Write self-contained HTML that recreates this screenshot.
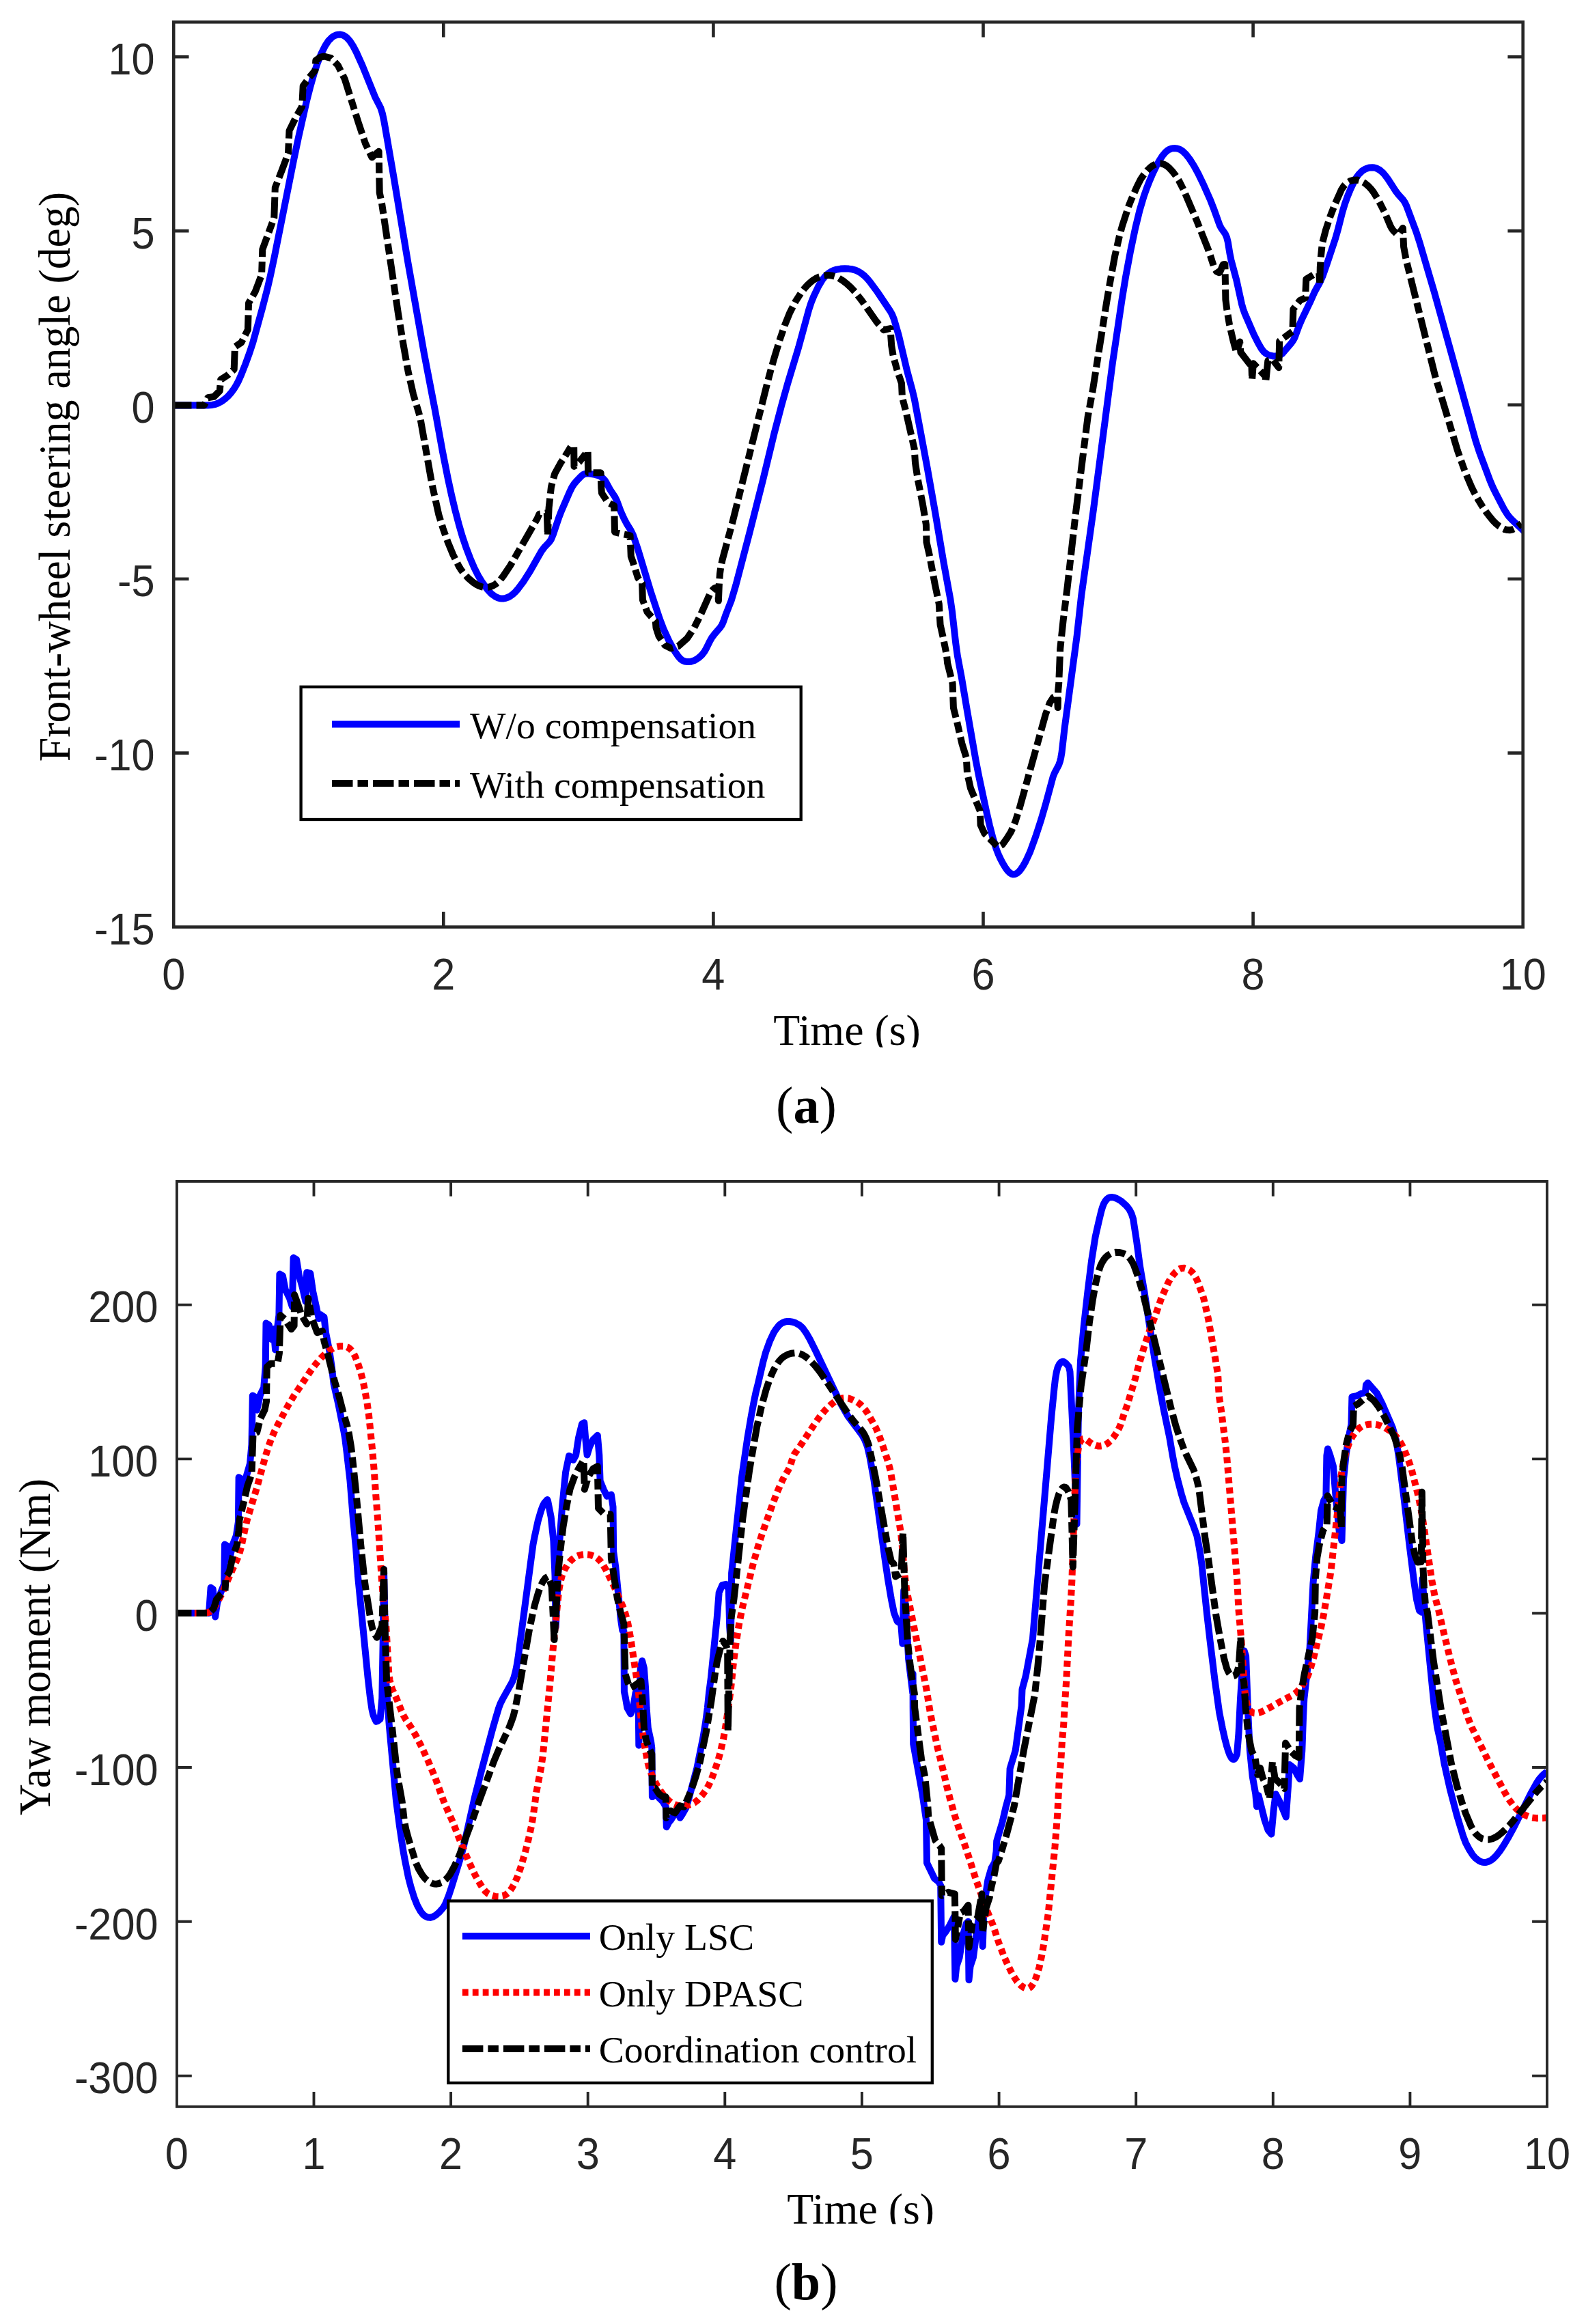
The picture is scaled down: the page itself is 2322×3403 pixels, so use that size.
<!DOCTYPE html>
<html lang="en"><head><meta charset="utf-8"><title>Figure</title>
<style>html,body{margin:0;padding:0;background:#fff}svg{display:block}.tk{font-family:"Liberation Sans",Arial,sans-serif;font-size:62.5px;fill:#262626}.lb{font-family:"Liberation Serif","Times New Roman",serif;font-size:63.8px;fill:#000}.lg{font-family:"Liberation Serif","Times New Roman",serif;font-size:55.7px;fill:#000}.cap{font-family:"Liberation Serif","Times New Roman",serif;font-size:76px;fill:#000}.cv{fill:none;stroke-width:10;stroke-linejoin:round}</style></head><body>
<svg xmlns="http://www.w3.org/2000/svg" width="2322" height="3403" viewBox="0 0 2322 3403">
<rect width="2322" height="3403" fill="#fff"/>
<defs>
<clipPath id="c1"><rect x="254.2" y="32.3" width="1975.5" height="1325.1"/></clipPath>
<clipPath id="c2"><rect x="258.9" y="1729.9" width="2006.1" height="1354.9"/></clipPath>
<clipPath id="t1"><rect x="1000" y="1440" width="500" height="93.5"/></clipPath>
<clipPath id="t2"><rect x="1000" y="3160" width="500" height="96.8"/></clipPath>
</defs>
<path stroke="#262626" stroke-width="4.6" fill="none" d="M649.3 1357.4v-22.3M649.3 32.3v22.3M1044.4 1357.4v-22.3M1044.4 32.3v22.3M1439.5 1357.4v-22.3M1439.5 32.3v22.3M1834.6 1357.4v-22.3M1834.6 32.3v22.3M254.2 83.3h22.3M2229.7 83.3h-22.3M254.2 338.1h22.3M2229.7 338.1h-22.3M254.2 592.9h22.3M2229.7 592.9h-22.3M254.2 847.7h22.3M2229.7 847.7h-22.3M254.2 1102.6h22.3M2229.7 1102.6h-22.3"/>
<g clip-path="url(#c1)">
<path class="cv" stroke="#00f" d="M240.1 593.4 L304.0 593.4 L310.9 592.9 L315.7 591.8 L320.3 590.0 L325.5 587.1 L329.5 584.1 L333.9 580.1 L337.9 575.7 L342.1 570.1 L345.8 564.1 L349.1 558.0 L353.5 547.9 L359.4 533.0 L365.2 517.0 L369.9 502.8 L384.0 451.7 L391.3 423.6 L395.8 404.2 L401.4 377.7 L429.8 235.6 L437.0 201.3 L448.8 148.6 L454.5 126.3 L460.2 106.1 L465.3 91.0 L470.6 78.0 L476.0 67.3 L480.9 59.8 L485.7 54.9 L489.0 52.7 L491.6 51.5 L495.3 50.7 L498.2 50.6 L500.9 51.1 L503.6 52.2 L506.0 53.7 L508.3 55.6 L512.2 60.0 L516.6 66.7 L521.7 76.4 L530.7 96.4 L549.1 141.9 L557.2 157.8 L559.9 166.3 L562.2 177.0 L566.0 198.7 L576.9 261.8 L597.1 383.1 L621.0 518.0 L636.9 600.5 L647.8 660.5 L655.8 700.7 L661.1 725.1 L666.2 746.5 L671.8 767.8 L676.8 785.1 L682.2 801.2 L688.2 817.1 L694.5 831.8 L699.9 842.5 L706.1 852.8 L713.7 863.3 L719.8 869.8 L725.4 873.8 L729.0 875.4 L731.8 876.2 L734.7 876.5 L737.6 876.4 L740.5 875.8 L744.1 874.5 L747.6 872.6 L750.7 870.3 L754.4 866.9 L757.7 863.2 L766.1 852.0 L776.3 836.0 L792.6 807.3 L796.7 801.7 L804.1 793.8 L806.9 789.8 L809.6 783.4 L817.9 758.8 L821.4 749.4 L833.7 721.0 L837.2 713.8 L840.4 708.8 L844.2 704.2 L850.4 697.8 L853.3 695.3 L855.6 694.1 L859.2 693.4 L863.0 693.6 L870.8 694.9 L876.5 696.5 L879.2 697.7 L881.6 699.3 L885.0 702.7 L887.2 705.9 L892.9 716.4 L900.1 727.2 L903.2 733.5 L909.1 749.4 L913.6 759.4 L917.3 766.5 L923.6 776.7 L926.7 782.9 L933.5 802.8 L952.6 866.0 L965.7 905.8 L971.4 920.8 L979.3 938.0 L984.0 946.9 L988.5 954.7 L993.0 961.2 L996.3 964.9 L999.3 967.1 L1002.8 968.5 L1006.6 969.1 L1011.5 968.7 L1017.0 966.9 L1022.9 963.3 L1027.3 959.3 L1031.6 953.8 L1034.0 949.5 L1039.3 938.8 L1042.3 933.6 L1046.5 928.0 L1054.3 919.0 L1057.0 914.9 L1059.0 910.4 L1062.6 900.0 L1070.6 879.5 L1077.4 856.5 L1096.9 782.1 L1117.1 702.6 L1133.5 634.5 L1144.1 593.9 L1153.3 561.1 L1169.2 508.5 L1184.2 453.5 L1187.6 443.1 L1191.3 433.8 L1198.2 419.4 L1203.8 409.9 L1206.9 406.0 L1210.3 402.4 L1213.4 399.9 L1216.7 397.8 L1220.3 396.1 L1225.0 394.6 L1230.8 393.6 L1236.8 393.3 L1242.8 393.6 L1247.7 394.3 L1252.5 395.6 L1257.0 397.7 L1261.2 400.3 L1265.8 404.0 L1270.0 408.3 L1274.4 413.7 L1284.5 427.4 L1303.4 455.6 L1306.3 460.8 L1308.9 467.3 L1315.6 490.3 L1328.0 542.9 L1335.8 571.9 L1338.8 584.5 L1357.6 684.8 L1369.4 751.7 L1381.2 821.7 L1391.3 876.8 L1393.9 894.6 L1399.3 942.3 L1401.8 960.1 L1407.9 992.6 L1415.5 1037.9 L1428.7 1113.8 L1433.5 1138.3 L1444.4 1189.2 L1448.9 1208.7 L1453.6 1227.0 L1458.7 1243.3 L1461.6 1250.7 L1464.5 1257.1 L1468.2 1264.2 L1472.3 1271.0 L1475.3 1275.0 L1478.0 1277.7 L1481.1 1279.7 L1483.5 1280.3 L1486.0 1280.1 L1489.2 1278.5 L1492.1 1276.0 L1494.6 1272.9 L1497.9 1268.0 L1501.8 1261.0 L1508.1 1247.4 L1516.3 1224.8 L1524.3 1200.1 L1531.0 1177.1 L1541.7 1137.5 L1543.9 1132.0 L1550.3 1119.7 L1551.9 1115.0 L1553.1 1110.1 L1554.6 1101.3 L1558.7 1065.5 L1576.5 932.7 L1583.2 872.1 L1600.9 746.3 L1628.9 531.1 L1642.7 438.1 L1648.0 405.6 L1655.2 367.2 L1662.2 334.0 L1668.6 307.7 L1674.6 287.6 L1678.9 275.4 L1683.3 264.2 L1688.0 253.2 L1692.4 244.2 L1697.2 235.4 L1701.5 228.7 L1705.9 223.3 L1709.6 220.1 L1712.1 218.7 L1714.8 217.7 L1717.6 217.2 L1720.5 217.1 L1723.4 217.5 L1726.1 218.3 L1728.8 219.6 L1731.2 221.2 L1736.2 225.9 L1741.8 233.0 L1748.2 243.1 L1754.4 254.5 L1762.2 270.7 L1772.3 293.6 L1776.7 304.8 L1785.8 330.1 L1788.1 334.4 L1793.8 342.4 L1796.1 347.8 L1797.8 354.6 L1800.5 371.3 L1802.5 381.1 L1810.3 410.1 L1818.0 445.3 L1820.2 452.9 L1822.6 459.5 L1835.7 489.8 L1842.0 502.3 L1847.0 510.9 L1850.0 514.8 L1853.7 517.9 L1858.0 520.1 L1863.7 521.4 L1867.7 521.5 L1871.5 520.9 L1874.9 519.5 L1877.2 517.9 L1890.7 502.3 L1893.5 498.2 L1895.4 494.7 L1901.6 477.8 L1906.3 466.8 L1917.6 443.4 L1924.9 427.0 L1932.6 413.0 L1936.3 404.8 L1942.6 386.9 L1955.2 349.0 L1958.5 337.4 L1965.4 310.3 L1969.2 297.8 L1972.9 287.5 L1977.5 276.4 L1981.3 268.3 L1985.1 261.2 L1989.1 255.5 L1994.0 250.6 L1998.9 247.5 L2004.5 245.6 L2009.3 245.2 L2012.1 245.5 L2014.9 246.3 L2020.1 249.0 L2025.3 253.6 L2028.5 257.4 L2032.1 262.2 L2044.0 280.7 L2047.7 285.3 L2054.3 292.7 L2057.0 296.8 L2059.5 302.2 L2073.5 339.7 L2079.0 356.8 L2099.6 426.8 L2160.5 645.5 L2165.8 661.7 L2181.5 703.8 L2185.4 713.0 L2189.8 722.0 L2201.8 745.1 L2206.5 752.7 L2209.5 756.7 L2213.6 761.1 L2236.1 782.3"/>
<path class="cv" stroke="#000" stroke-dasharray="30.5 7 15.5 7" d="M250.0 593.4 L299.0 593.4 L304.4 582.3 L313.2 580.9 L321.7 572.4 L323.1 556.1 L323.4 555.7 L333.1 549.6 L342.7 540.8 L343.9 507.9 L353.4 501.5 L362.9 482.8 L364.0 443.8 L373.7 427.0 L383.1 402.2 L384.3 365.2 L401.3 318.8 L402.8 274.8 L412.6 249.6 L422.0 224.3 L423.5 191.4 L432.8 172.5 L442.2 156.0 L443.7 126.0 L453.1 113.1 L461.4 103.1 L462.3 88.6 L462.7 88.3 L469.2 83.6 L474.5 82.5 L484.7 85.1 L494.7 95.6 L504.7 115.7 L524.8 179.7 L534.9 210.0 L544.5 230.4 L554.6 221.7 L555.7 282.1 L559.0 297.7 L583.2 460.4 L590.5 504.3 L597.5 543.7 L605.1 577.4 L613.4 605.1 L615.6 613.9 L632.4 708.9 L642.5 754.3 L648.6 773.8 L655.4 793.1 L663.4 812.5 L671.7 829.0 L674.6 833.7 L677.8 838.1 L685.5 846.6 L693.5 853.3 L697.6 856.0 L701.6 858.0 L705.3 859.3 L708.6 859.9 L711.9 860.1 L715.2 859.8 L718.5 858.9 L722.0 857.5 L725.4 855.5 L728.4 853.1 L732.6 848.9 L736.9 843.4 L746.9 828.5 L786.5 759.5 L789.5 752.7 L800.8 751.1 L801.9 784.2 L803.6 743.7 L807.0 712.9 L812.2 693.6 L820.6 678.3 L826.7 669.1 L835.5 654.6 L835.8 654.2 L840.0 652.8 L840.2 653.0 L840.5 682.9 L847.8 676.8 L860.6 660.3 L861.1 691.8 L861.4 692.1 L879.4 692.3 L879.6 692.7 L880.3 714.6 L881.0 722.1 L890.1 735.9 L899.0 740.4 L899.2 740.7 L900.0 778.7 L900.2 779.1 L908.9 781.3 L922.6 784.3 L923.8 814.7 L926.5 822.2 L933.9 846.1 L940.1 854.0 L940.9 878.4 L947.6 896.2 L959.8 910.1 L960.5 919.1 L964.5 931.4 L973.4 944.7 L982.3 949.2 L982.8 949.2 L993.3 946.1 L1006.0 934.8 L1016.2 919.4 L1026.0 899.7 L1038.9 870.5 L1041.3 866.3 L1043.9 863.1 L1046.1 861.3 L1047.8 860.5 L1049.1 860.6 L1050.1 861.7 L1051.0 865.7 L1051.9 879.6 L1052.9 854.5 L1054.0 840.0 L1055.3 830.1 L1057.8 818.9 L1072.6 763.9 L1122.2 565.5 L1127.8 544.2 L1133.8 523.1 L1141.6 497.7 L1149.0 476.0 L1155.9 458.8 L1164.4 441.9 L1172.8 428.8 L1177.3 422.9 L1182.0 417.7 L1186.3 413.6 L1190.5 410.2 L1195.2 407.4 L1199.7 405.4 L1204.9 403.9 L1209.7 403.1 L1214.6 403.1 L1218.9 403.8 L1223.6 405.2 L1228.1 407.3 L1234.0 411.0 L1239.9 415.6 L1246.1 421.3 L1252.2 427.9 L1261.7 440.1 L1282.6 470.0 L1286.7 475.1 L1293.9 483.2 L1303.5 481.0 L1305.2 505.9 L1307.7 521.2 L1314.0 543.8 L1320.0 561.3 L1320.9 581.8 L1326.2 602.1 L1338.7 657.2 L1340.0 677.7 L1343.8 702.4 L1350.9 738.2 L1355.9 768.3 L1356.5 793.8 L1361.0 813.8 L1368.5 854.1 L1374.8 884.4 L1376.6 914.9 L1381.1 934.9 L1386.1 959.9 L1387.1 970.8 L1394.6 1000.9 L1395.9 1036.4 L1400.9 1056.2 L1408.4 1088.9 L1414.8 1109.4 L1416.0 1131.9 L1421.0 1154.3 L1434.9 1187.5 L1435.6 1208.0 L1441.2 1220.2 L1461.3 1240.4 L1467.7 1236.7 L1474.1 1227.7 L1480.2 1217.9 L1486.6 1202.7 L1493.0 1182.2 L1530.7 1046.4 L1537.0 1028.9 L1542.2 1021.0 L1547.7 1018.6 L1547.9 1018.8 L1548.7 1036.1 L1549.2 1011.1 L1550.2 1000.7 L1552.2 950.2 L1556.5 909.4 L1562.7 859.3 L1574.6 754.0 L1592.7 610.1 L1599.6 572.7 L1620.1 442.9 L1624.8 415.3 L1632.3 374.4 L1638.8 346.2 L1643.0 330.8 L1652.6 301.3 L1655.9 293.0 L1664.8 272.8 L1670.0 262.6 L1674.4 256.0 L1679.4 249.8 L1684.0 245.3 L1688.3 242.1 L1692.1 240.2 L1696.2 239.3 L1700.3 239.4 L1704.3 240.7 L1708.1 242.8 L1712.2 246.3 L1716.2 250.6 L1720.8 256.5 L1726.2 264.9 L1732.6 277.4 L1752.2 323.3 L1768.8 365.2 L1772.1 374.6 L1777.1 390.2 L1778.9 394.4 L1781.1 397.5 L1782.7 398.4 L1785.0 399.2 L1786.0 398.1 L1786.8 396.6 L1790.6 387.5 L1793.4 386.9 L1794.4 438.9 L1796.3 453.3 L1800.0 475.4 L1805.1 497.4 L1810.2 516.2 L1815.2 500.6 L1816.4 515.9 L1829.8 533.3 L1832.3 529.6 L1833.1 556.0 L1834.9 532.2 L1852.6 551.0 L1853.1 559.6 L1856.3 528.3 L1862.8 526.0 L1872.2 538.3 L1873.2 499.5 L1892.4 485.3 L1893.4 452.8 L1903.0 440.1 L1911.1 436.2 L1912.3 408.7 L1922.9 402.3 L1931.0 399.8 L1931.3 400.0 L1932.3 417.2 L1932.8 391.7 L1933.8 376.8 L1935.8 356.9 L1940.9 337.0 L1947.6 316.6 L1954.1 299.9 L1963.8 277.9 L1967.5 272.2 L1971.6 268.1 L1976.5 265.2 L1982.1 263.7 L1987.3 263.6 L1992.4 264.9 L1997.9 268.0 L2003.2 272.4 L2007.2 276.7 L2010.9 281.4 L2018.2 293.3 L2027.3 311.1 L2035.8 331.3 L2037.7 334.7 L2039.6 337.4 L2046.1 343.8 L2047.0 343.3 L2048.2 342.0 L2053.9 334.0 L2055.1 361.4 L2058.9 381.6 L2101.1 550.4 L2133.9 659.6 L2142.5 684.1 L2148.6 699.4 L2154.5 713.2 L2158.7 721.7 L2164.0 731.3 L2169.2 739.9 L2175.3 749.0 L2180.4 755.8 L2186.2 762.7 L2190.4 766.9 L2195.0 770.7 L2199.1 773.3 L2203.0 775.1 L2207.2 776.1 L2210.9 776.2 L2214.5 775.3 L2218.3 773.6 L2222.3 770.9 L2227.6 766.7"/>
</g>
<rect x="254.2" y="32.3" width="1975.5" height="1325.1" stroke="#262626" stroke-width="4.6" fill="none"/>
<text class="tk" text-anchor="middle" transform="translate(254.2 1449.0) scale(.98 1.04)">0</text>
<text class="tk" text-anchor="middle" transform="translate(649.3 1449.0) scale(.98 1.04)">2</text>
<text class="tk" text-anchor="middle" transform="translate(1044.4 1449.0) scale(.98 1.04)">4</text>
<text class="tk" text-anchor="middle" transform="translate(1439.5 1449.0) scale(.98 1.04)">6</text>
<text class="tk" text-anchor="middle" transform="translate(1834.6 1449.0) scale(.98 1.04)">8</text>
<text class="tk" text-anchor="middle" transform="translate(2229.7 1449.0) scale(.98 1.04)">10</text>
<text class="tk" text-anchor="end" transform="translate(226.5 109.0) scale(.98 1.04)">10</text>
<text class="tk" text-anchor="end" transform="translate(226.5 363.8) scale(.98 1.04)">5</text>
<text class="tk" text-anchor="end" transform="translate(226.5 618.6) scale(.98 1.04)">0</text>
<text class="tk" text-anchor="end" transform="translate(226.5 873.4) scale(.98 1.04)">-5</text>
<text class="tk" text-anchor="end" transform="translate(226.5 1128.3) scale(.98 1.04)">-10</text>
<text class="tk" text-anchor="end" transform="translate(226.5 1383.1) scale(.98 1.04)">-15</text>
<text class="lb" text-anchor="middle" transform="translate(102.1 698.1) rotate(-90) scale(1 1.025)">Front-wheel steering angle (deg)</text>
<g clip-path="url(#t1)"><text class="lb" text-anchor="middle" x="1240" y="1530.3">Time (s)</text></g>
<text class="cap" text-anchor="middle" x="1180.4" y="1643.8">(<tspan font-weight="bold">a</tspan>)</text>
<rect x="440.6" y="1005.8" width="732.1" height="194.2" fill="#fff" stroke="#000" stroke-width="4.3"/>
<path class="cv" stroke="#00f" d="M486 1060.4H673.1"/>
<path class="cv" stroke="#000" stroke-dasharray="30.5 7 15.5 7" d="M486 1147H673.1"/>
<text class="lg" x="688" y="1080.9">W/o compensation</text>
<text class="lg" x="688" y="1167.5">With compensation</text>
<path stroke="#262626" stroke-width="3.9" fill="none" d="M459.5 3084.8v-21.9M459.5 1729.9v21.9M660.1 3084.8v-21.9M660.1 1729.9v21.9M860.7 3084.8v-21.9M860.7 1729.9v21.9M1061.3 3084.8v-21.9M1061.3 1729.9v21.9M1261.9 3084.8v-21.9M1261.9 1729.9v21.9M1462.6 3084.8v-21.9M1462.6 1729.9v21.9M1663.2 3084.8v-21.9M1663.2 1729.9v21.9M1863.8 3084.8v-21.9M1863.8 1729.9v21.9M2064.4 3084.8v-21.9M2064.4 1729.9v21.9M258.9 1910.6h21.9M2265.0 1910.6h-21.9M258.9 2136.4h21.9M2265.0 2136.4h-21.9M258.9 2362.2h21.9M2265.0 2362.2h-21.9M258.9 2588.0h21.9M2265.0 2588.0h-21.9M258.9 2813.8h21.9M2265.0 2813.8h-21.9M258.9 3039.6h21.9M2265.0 3039.6h-21.9"/>
<g clip-path="url(#c2)">
<path class="cv" stroke="#00f" d="M250.0 2361.9 L306.0 2361.9 L308.6 2324.7 L311.8 2327.1 L315.1 2367.4 L318.1 2347.2 L323.2 2332.0 L328.2 2319.5 L329.0 2261.6 L333.2 2264.1 L335.8 2284.0 L340.8 2261.6 L345.9 2248.5 L348.9 2228.8 L349.6 2163.3 L353.3 2165.6 L353.5 2166.1 L355.9 2183.3 L360.9 2160.9 L366.0 2143.1 L368.5 2115.2 L369.8 2043.7 L369.9 2043.5 L374.1 2046.1 L376.1 2064.7 L381.1 2042.2 L386.2 2031.9 L388.7 2001.5 L389.5 1937.5 L393.7 1940.0 L397.6 1961.2 L400.6 1946.1 L403.1 1976.5 L406.4 1941.3 L408.4 1925.9 L409.4 1865.9 L409.5 1865.6 L413.9 1868.1 L417.7 1888.2 L423.9 1900.7 L427.8 1913.3 L429.6 1841.9 L429.8 1841.7 L434.1 1844.2 L437.9 1867.9 L442.9 1885.7 L447.4 1905.7 L449.2 1863.2 L454.3 1864.5 L458.1 1890.7 L466.8 1930.8 L466.9 1931.1 L469.3 1925.0 L474.5 1928.6 L477.0 1951.5 L482.1 1977.0 L485.4 1999.2 L488.6 2026.5 L495.4 2056.2 L503.4 2095.9 L505.3 2107.3 L507.8 2127.6 L512.5 2168.3 L517.3 2228.1 L521.1 2267.0 L524.0 2307.9 L538.5 2455.6 L541.7 2483.5 L544.4 2502.3 L546.1 2510.0 L547.5 2514.0 L550.7 2520.8 L552.7 2520.2 L556.6 2517.3 L559.3 2487.0 L561.0 2386.0 L562.0 2298.0 L565.1 2461.6 L569.8 2526.4 L580.0 2636.5 L585.1 2675.1 L590.2 2709.2 L592.5 2722.0 L597.9 2749.0 L601.4 2762.5 L606.6 2779.2 L610.9 2789.9 L615.4 2798.2 L618.9 2802.8 L622.5 2805.8 L626.1 2807.5 L629.9 2807.9 L633.7 2806.9 L638.2 2804.2 L643.4 2799.7 L648.0 2794.5 L650.2 2791.3 L652.3 2787.4 L656.9 2775.8 L661.0 2763.5 L673.6 2722.4 L676.8 2711.3 L680.3 2697.2 L695.4 2629.9 L705.7 2589.7 L720.9 2532.7 L725.6 2516.4 L730.0 2501.5 L732.6 2494.5 L735.9 2487.9 L750.0 2462.6 L752.4 2456.6 L754.5 2448.9 L756.8 2437.7 L758.5 2427.3 L780.4 2261.8 L782.8 2249.5 L787.7 2227.0 L792.2 2211.7 L794.9 2204.4 L797.1 2200.6 L801.3 2195.9 L802.0 2197.5 L806.7 2221.3 L810.4 2256.1 L812.5 2307.0 L813.7 2382.5 L819.3 2256.4 L823.1 2206.0 L828.1 2155.8 L833.1 2131.8 L836.8 2134.1 L839.3 2137.8 L843.2 2130.6 L847.0 2105.4 L851.9 2085.5 L852.1 2085.0 L855.1 2083.2 L855.3 2083.2 L857.1 2105.2 L859.6 2130.4 L863.4 2117.9 L868.3 2108.1 L874.8 2101.7 L877.3 2130.6 L878.6 2168.5 L883.7 2181.0 L888.6 2190.9 L894.9 2188.6 L897.5 2206.4 L898.2 2271.9 L901.3 2294.7 L908.8 2370.3 L911.3 2387.6 L911.5 2384.0 L913.4 2388.6 L913.9 2477.1 L915.9 2486.4 L918.3 2500.7 L923.3 2509.5 L926.9 2500.7 L930.5 2479.0 L934.4 2471.9 L935.3 2555.8 L936.5 2471.8 L937.8 2442.3 L940.1 2431.9 L942.9 2442.5 L945.1 2471.9 L946.6 2500.9 L948.8 2530.3 L953.1 2550.3 L954.3 2559.3 L954.9 2630.7 L955.0 2631.1 L959.0 2625.3 L964.9 2632.7 L970.6 2638.3 L974.8 2645.7 L975.8 2675.2 L978.8 2669.2 L982.3 2664.9 L987.0 2657.3 L992.6 2653.1 L995.7 2661.7 L998.5 2657.5 L1004.2 2647.5 L1008.7 2632.7 L1020.4 2588.8 L1029.3 2544.6 L1032.9 2522.9 L1035.8 2501.1 L1038.0 2479.2 L1040.9 2456.9 L1049.7 2369.4 L1052.7 2332.0 L1057.5 2321.0 L1057.9 2320.8 L1062.9 2319.8 L1066.8 2327.0 L1068.2 2382.4 L1069.7 2402.6 L1070.9 2340.1 L1071.1 2303.6 L1086.2 2161.8 L1094.2 2106.7 L1099.8 2073.5 L1104.1 2050.7 L1106.7 2038.4 L1109.8 2026.2 L1113.8 2009.0 L1117.3 1994.0 L1121.1 1980.1 L1127.2 1963.3 L1132.9 1951.2 L1135.5 1947.1 L1138.1 1943.7 L1140.5 1940.7 L1143.0 1938.5 L1146.1 1936.7 L1149.3 1935.5 L1152.7 1934.9 L1155.7 1935.0 L1160.3 1935.7 L1164.5 1937.1 L1170.1 1940.1 L1175.2 1944.6 L1180.0 1951.3 L1185.5 1960.7 L1194.5 1978.8 L1230.7 2054.9 L1241.6 2073.9 L1257.1 2094.5 L1261.9 2100.9 L1266.2 2108.6 L1269.9 2118.1 L1273.4 2133.3 L1279.5 2167.4 L1295.8 2284.4 L1300.0 2312.7 L1304.8 2341.2 L1308.9 2361.5 L1313.6 2374.1 L1319.2 2377.9 L1321.4 2406.8 L1323.2 2328.9 L1326.1 2354.2 L1330.2 2430.0 L1336.4 2479.9 L1336.6 2450.7 L1336.7 2500.7 L1337.2 2553.7 L1350.4 2626.7 L1356.0 2664.8 L1357.0 2727.8 L1367.9 2750.3 L1374.4 2755.7 L1377.2 2761.0 L1378.2 2843.8 L1380.2 2834.0 L1384.6 2828.6 L1390.7 2818.8 L1396.9 2806.4 L1398.4 2897.9 L1400.3 2879.5 L1404.6 2866.7 L1409.8 2833.6 L1414.7 2816.3 L1417.5 2813.7 L1418.5 2899.2 L1420.6 2879.1 L1424.9 2866.3 L1429.9 2828.7 L1433.6 2803.9 L1437.6 2793.7 L1438.7 2850.2 L1440.3 2803.2 L1442.5 2778.3 L1446.3 2753.1 L1451.4 2735.3 L1456.3 2727.2 L1458.6 2710.9 L1459.2 2695.9 L1467.5 2668.1 L1472.8 2645.2 L1477.3 2628.8 L1478.6 2589.9 L1486.7 2563.1 L1495.5 2498.2 L1496.5 2473.7 L1501.8 2453.9 L1511.9 2399.8 L1539.4 2073.7 L1543.4 2033.5 L1544.9 2020.1 L1546.8 2008.9 L1548.5 2002.4 L1550.9 1997.5 L1552.5 1995.6 L1553.9 1994.4 L1555.4 1993.8 L1556.8 1993.8 L1558.0 1994.4 L1560.2 1996.0 L1564.7 2000.8 L1566.5 2008.4 L1568.2 2042.7 L1570.0 2080.6 L1572.4 2131.0 L1576.5 2231.7 L1578.9 2067.7 L1582.0 1992.2 L1586.8 1941.8 L1592.5 1891.0 L1598.1 1845.8 L1603.7 1810.6 L1608.7 1788.6 L1610.8 1779.9 L1612.4 1773.3 L1614.2 1767.3 L1615.9 1762.9 L1617.8 1759.4 L1620.1 1756.4 L1622.8 1754.2 L1625.4 1753.2 L1628.5 1753.1 L1631.6 1753.7 L1635.1 1755.0 L1641.5 1758.8 L1649.0 1765.5 L1651.7 1768.7 L1654.0 1772.0 L1656.7 1777.5 L1659.0 1784.6 L1664.2 1818.3 L1669.0 1854.1 L1675.4 1891.6 L1690.2 1988.0 L1696.9 2027.5 L1703.3 2061.9 L1712.1 2104.0 L1716.9 2132.1 L1719.8 2147.3 L1723.8 2165.3 L1729.7 2187.6 L1733.6 2200.5 L1746.6 2232.8 L1752.3 2248.6 L1755.4 2264.2 L1758.7 2284.8 L1760.1 2296.2 L1762.2 2317.5 L1767.0 2362.9 L1771.7 2403.7 L1778.5 2459.7 L1785.2 2507.8 L1789.8 2530.8 L1793.2 2545.9 L1796.1 2557.0 L1798.2 2563.7 L1800.5 2569.9 L1802.8 2574.0 L1804.0 2575.3 L1805.2 2576.1 L1806.3 2576.2 L1807.2 2575.8 L1808.9 2573.5 L1811.0 2568.5 L1813.5 2538.2 L1816.0 2487.7 L1818.5 2450.3 L1821.7 2417.5 L1824.1 2425.1 L1827.4 2513.1 L1829.9 2563.5 L1833.7 2601.3 L1838.2 2626.4 L1840.0 2645.3 L1842.6 2629.3 L1851.3 2664.3 L1856.6 2679.9 L1861.3 2685.7 L1861.4 2685.5 L1864.5 2651.7 L1867.7 2626.9 L1874.1 2639.3 L1882.8 2660.6 L1886.1 2613.8 L1887.9 2583.9 L1894.3 2589.0 L1899.2 2598.8 L1903.0 2605.0 L1906.3 2563.6 L1908.1 2513.2 L1909.3 2487.7 L1917.7 2412.1 L1922.5 2318.1 L1926.1 2280.2 L1930.9 2242.4 L1934.0 2212.2 L1938.2 2197.0 L1941.4 2191.7 L1942.4 2131.2 L1944.0 2121.4 L1947.5 2131.5 L1951.9 2146.7 L1955.7 2192.0 L1960.7 2242.2 L1964.5 2255.9 L1967.0 2166.5 L1970.8 2128.6 L1975.8 2098.6 L1978.4 2085.8 L1979.4 2045.8 L1979.5 2045.5 L1985.9 2044.2 L1993.5 2040.4 L1998.9 2039.2 L2000.0 2027.9 L2002.7 2024.9 L2016.0 2040.3 L2023.7 2055.4 L2038.9 2090.8 L2043.9 2108.6 L2047.7 2131.3 L2055.3 2191.8 L2062.9 2257.4 L2070.4 2317.4 L2074.2 2343.1 L2078.0 2358.2 L2081.1 2360.6 L2081.3 2360.4 L2082.5 2311.7 L2084.8 2343.1 L2088.1 2381.0 L2099.4 2494.4 L2104.2 2529.1 L2108.8 2550.0 L2114.6 2583.0 L2123.2 2621.1 L2132.7 2657.3 L2142.1 2688.4 L2146.0 2698.6 L2151.4 2708.8 L2155.9 2715.9 L2160.4 2721.1 L2165.4 2724.8 L2168.0 2726.0 L2170.6 2726.8 L2172.9 2727.0 L2175.7 2726.9 L2178.4 2726.2 L2181.0 2725.1 L2183.8 2723.4 L2186.5 2721.3 L2191.0 2716.7 L2195.6 2710.9 L2201.7 2701.7 L2207.6 2691.8 L2215.5 2677.4 L2241.8 2625.1 L2250.1 2610.3 L2253.4 2605.3 L2256.9 2601.2 L2260.9 2597.3 L2264.8 2594.4"/>
<path class="cv" stroke="#f00" stroke-dasharray="8.8 6.1" d="M240.1 2361.9 L295.0 2361.9 L301.9 2361.7 L305.6 2360.9 L308.0 2359.7 L310.8 2357.3 L313.3 2354.3 L318.5 2345.9 L324.9 2333.4 L340.1 2298.6 L347.2 2283.2 L350.2 2275.7 L353.4 2264.2 L359.1 2236.8 L362.2 2224.2 L376.1 2178.2 L388.8 2131.9 L393.6 2116.7 L397.8 2105.4 L401.7 2096.2 L407.1 2085.5 L421.2 2059.0 L429.4 2045.3 L456.1 2005.4 L462.8 1996.7 L470.0 1988.4 L476.5 1982.2 L482.7 1977.2 L487.8 1974.2 L492.4 1972.4 L498.2 1971.2 L504.0 1971.2 L508.6 1972.5 L512.6 1975.2 L516.4 1979.5 L519.7 1985.6 L523.8 1995.8 L527.8 2008.2 L531.3 2021.7 L534.1 2035.4 L537.6 2055.1 L540.0 2072.0 L545.1 2122.7 L547.7 2152.6 L550.2 2188.5 L553.2 2226.4 L558.8 2312.2 L560.6 2334.1 L565.1 2378.9 L569.2 2448.8 L570.5 2459.7 L572.2 2467.5 L574.5 2474.1 L580.8 2487.6 L587.8 2505.3 L591.1 2512.6 L594.5 2518.6 L602.9 2531.1 L608.9 2541.5 L617.1 2557.5 L626.3 2577.4 L637.2 2603.2 L647.3 2631.5 L651.3 2641.7 L663.0 2668.2 L673.9 2696.2 L682.3 2716.5 L690.4 2734.8 L696.1 2746.5 L702.5 2757.8 L706.7 2764.6 L710.4 2769.3 L714.0 2772.5 L719.1 2775.3 L724.8 2776.9 L730.7 2777.2 L736.4 2776.1 L739.1 2775.0 L741.6 2773.6 L743.9 2771.7 L746.5 2768.8 L749.3 2764.7 L752.3 2759.6 L757.4 2748.7 L762.0 2735.5 L768.6 2713.5 L774.2 2691.2 L778.3 2672.6 L780.8 2657.8 L785.3 2624.1 L792.1 2588.8 L794.7 2571.0 L805.1 2466.5 L810.0 2410.7 L818.2 2329.1 L820.4 2316.3 L823.0 2306.7 L826.5 2298.4 L831.1 2290.8 L834.2 2286.8 L836.9 2284.0 L840.8 2280.9 L844.2 2278.9 L847.8 2277.5 L852.6 2276.4 L856.6 2276.0 L861.5 2276.4 L865.3 2277.2 L869.0 2278.5 L872.5 2280.3 L875.7 2282.7 L878.5 2285.4 L881.6 2289.3 L887.2 2298.7 L899.5 2323.9 L911.8 2352.3 L915.8 2363.6 L919.3 2377.2 L923.4 2399.8 L933.5 2467.0 L935.2 2481.9 L939.9 2529.7 L942.4 2548.5 L947.7 2578.1 L949.9 2586.8 L952.8 2595.3 L955.5 2601.7 L959.0 2608.9 L962.3 2615.1 L966.6 2621.8 L970.7 2627.5 L974.5 2632.1 L978.8 2636.3 L982.6 2639.4 L986.9 2641.9 L990.6 2643.3 L994.4 2644.2 L998.3 2644.5 L1003.2 2644.1 L1008.1 2643.2 L1012.8 2641.6 L1016.3 2639.9 L1021.8 2635.7 L1027.2 2629.8 L1033.1 2621.8 L1037.6 2614.0 L1041.8 2604.9 L1046.3 2592.8 L1050.8 2579.5 L1054.6 2566.0 L1059.2 2545.6 L1063.3 2521.9 L1069.6 2476.3 L1074.1 2432.6 L1077.5 2406.8 L1082.2 2377.1 L1087.0 2353.5 L1103.1 2288.2 L1109.7 2264.9 L1115.5 2246.7 L1121.5 2229.6 L1131.3 2202.2 L1136.9 2187.2 L1141.6 2176.1 L1145.8 2167.0 L1148.6 2161.7 L1153.7 2153.2 L1156.0 2148.8 L1157.4 2145.1 L1160.5 2134.6 L1163.0 2129.2 L1172.7 2115.4 L1191.9 2086.3 L1197.4 2078.2 L1202.1 2072.0 L1208.3 2064.6 L1215.2 2057.9 L1221.9 2052.5 L1227.6 2049.2 L1232.8 2047.4 L1237.3 2047.0 L1243.0 2047.8 L1249.4 2050.1 L1253.8 2052.3 L1257.0 2054.4 L1260.1 2056.9 L1263.6 2060.4 L1266.8 2064.3 L1269.6 2068.3 L1276.1 2079.6 L1282.1 2090.4 L1287.3 2102.5 L1292.7 2117.8 L1299.7 2139.0 L1303.7 2153.7 L1319.2 2246.1 L1320.8 2263.9 L1324.3 2304.7 L1327.5 2329.4 L1356.2 2472.5 L1362.1 2509.1 L1372.8 2559.9 L1380.5 2591.0 L1386.3 2616.3 L1390.8 2633.8 L1398.2 2659.7 L1403.4 2675.9 L1415.1 2708.9 L1429.0 2752.7 L1444.8 2797.0 L1453.9 2819.2 L1462.6 2845.8 L1470.2 2865.4 L1475.1 2876.3 L1480.4 2887.1 L1485.3 2895.8 L1489.2 2901.6 L1493.9 2906.7 L1498.6 2910.1 L1501.2 2911.2 L1502.9 2911.5 L1506.2 2911.2 L1508.4 2910.0 L1510.9 2907.3 L1513.5 2903.1 L1516.4 2896.8 L1518.8 2890.2 L1521.5 2880.6 L1525.5 2862.0 L1528.2 2846.3 L1534.6 2802.7 L1544.5 2704.2 L1548.2 2656.4 L1550.9 2603.4 L1553.3 2577.6 L1555.0 2548.6 L1557.2 2525.7 L1558.7 2498.8 L1561.2 2460.9 L1564.5 2395.9 L1567.9 2343.0 L1569.3 2316.1 L1574.5 2158.2 L1576.1 2139.2 L1579.1 2118.5 L1580.4 2113.7 L1582.0 2110.3 L1584.2 2107.8 L1585.6 2107.0 L1587.0 2106.8 L1588.4 2107.0 L1589.9 2107.6 L1598.2 2113.9 L1601.7 2115.7 L1604.4 2116.7 L1608.2 2117.5 L1611.1 2117.5 L1614.0 2117.1 L1616.7 2116.3 L1621.0 2114.0 L1625.5 2110.2 L1630.6 2104.1 L1635.5 2096.6 L1637.9 2092.2 L1640.3 2086.7 L1645.6 2070.6 L1650.7 2056.5 L1661.9 2019.1 L1667.3 1998.8 L1676.0 1969.1 L1683.1 1948.3 L1691.0 1927.7 L1700.5 1900.3 L1710.2 1878.4 L1713.6 1872.3 L1717.0 1867.4 L1721.6 1862.2 L1726.2 1858.6 L1728.7 1857.3 L1730.5 1856.9 L1734.1 1856.8 L1737.8 1857.8 L1742.1 1860.0 L1745.1 1862.5 L1748.2 1866.3 L1750.7 1870.5 L1753.2 1876.0 L1761.2 1897.5 L1763.0 1904.3 L1769.1 1931.6 L1779.3 1989.7 L1782.7 2010.4 L1783.4 2017.3 L1784.2 2035.3 L1785.0 2045.3 L1787.9 2065.0 L1793.6 2109.7 L1796.1 2132.5 L1811.2 2313.9 L1813.5 2357.8 L1817.6 2404.6 L1822.1 2472.5 L1823.5 2484.4 L1825.1 2493.2 L1827.2 2499.9 L1829.5 2504.1 L1832.0 2506.8 L1835.1 2508.3 L1839.7 2508.7 L1844.3 2507.7 L1847.9 2506.2 L1861.2 2499.3 L1876.8 2490.4 L1891.9 2482.5 L1897.6 2478.6 L1902.5 2473.6 L1909.8 2463.0 L1914.6 2454.2 L1918.7 2443.0 L1923.4 2426.6 L1933.7 2384.9 L1938.3 2362.4 L1947.2 2309.1 L1948.8 2298.2 L1958.2 2213.7 L1963.6 2160.0 L1966.6 2143.3 L1971.0 2124.8 L1975.0 2113.5 L1979.8 2103.7 L1984.9 2096.3 L1987.6 2093.4 L1990.6 2090.8 L1993.9 2088.7 L1996.6 2087.5 L2000.3 2086.4 L2004.2 2085.8 L2008.2 2085.6 L2013.1 2085.8 L2017.0 2086.4 L2020.9 2087.5 L2028.1 2090.8 L2035.6 2095.6 L2042.3 2101.6 L2047.4 2107.7 L2051.7 2114.4 L2056.1 2123.4 L2062.4 2139.2 L2066.3 2150.5 L2075.9 2188.3 L2080.8 2211.8 L2083.1 2225.6 L2096.2 2313.6 L2100.6 2337.2 L2106.3 2358.4 L2112.1 2383.8 L2123.7 2431.4 L2130.5 2457.5 L2145.1 2503.3 L2150.8 2519.3 L2155.3 2530.4 L2181.8 2584.2 L2202.3 2623.1 L2206.7 2631.0 L2210.5 2636.9 L2215.2 2643.3 L2219.1 2647.8 L2224.3 2652.5 L2230.0 2656.4 L2237.2 2659.8 L2242.9 2661.6 L2249.7 2662.4 L2258.7 2662.2 L2265.6 2661.4 L2276.4 2659.3"/>
<path class="cv" stroke="#000" stroke-dasharray="30.5 7 15.5 7" d="M250.0 2361.9 L306.5 2361.9 L312.9 2355.0 L316.9 2342.2 L323.0 2334.9 L329.5 2329.4 L330.7 2309.5 L335.7 2302.0 L340.8 2279.1 L347.1 2261.6 L349.6 2241.3 L350.5 2225.8 L355.9 2203.5 L362.3 2175.7 L368.5 2158.3 L370.5 2100.3 L376.2 2097.4 L381.1 2077.5 L387.5 2064.5 L390.0 2052.3 L390.7 2001.8 L396.3 1996.7 L406.3 1996.7 L406.4 1996.3 L408.9 1981.5 L410.5 1926.1 L416.6 1931.3 L426.5 1946.3 L430.6 1941.2 L431.1 1896.0 L436.6 1911.0 L441.7 1926.2 L449.2 1938.6 L451.3 1900.9 L456.8 1930.9 L464.3 1951.0 L464.5 1951.3 L472.0 1949.0 L474.6 1964.3 L479.5 1981.6 L489.0 2019.4 L496.1 2043.4 L502.2 2067.1 L508.5 2088.7 L510.5 2097.4 L513.9 2117.6 L515.5 2130.0 L521.1 2183.2 L528.3 2262.9 L534.1 2317.1 L535.8 2329.0 L542.9 2373.4 L545.2 2384.6 L547.7 2391.2 L551.7 2397.7 L553.4 2394.8 L559.3 2381.0 L562.0 2298.1 L563.6 2386.1 L566.1 2461.5 L573.7 2526.1 L581.2 2594.7 L582.8 2605.1 L588.6 2637.5 L591.9 2666.3 L594.3 2678.6 L598.4 2693.5 L608.6 2727.0 L612.6 2736.1 L618.2 2745.5 L621.5 2749.8 L625.0 2753.3 L628.4 2755.8 L631.8 2757.5 L635.5 2758.5 L639.2 2758.7 L642.8 2758.0 L646.4 2756.6 L649.6 2754.5 L653.0 2751.7 L656.3 2748.0 L659.2 2744.0 L664.9 2733.5 L672.2 2717.6 L683.5 2686.6 L693.0 2661.4 L702.3 2635.0 L723.4 2578.3 L732.4 2557.1 L744.7 2531.4 L748.7 2521.2 L751.5 2513.2 L753.9 2503.5 L759.6 2475.1 L774.5 2388.8 L780.5 2360.0 L783.5 2347.8 L788.3 2331.5 L791.4 2323.1 L794.7 2316.0 L798.4 2310.8 L802.4 2308.7 L803.9 2311.8 L807.7 2323.1 L811.5 2401.0 L814.2 2357.5 L816.7 2307.1 L820.5 2269.3 L824.4 2236.0 L829.4 2205.9 L834.4 2180.9 L840.8 2163.0 L847.1 2150.5 L854.5 2138.1 L855.8 2180.8 L861.0 2163.1 L868.4 2150.6 L874.8 2147.0 L876.0 2208.4 L883.7 2216.2 L893.6 2217.4 L894.9 2281.9 L903.7 2339.7 L908.9 2362.7 L913.3 2377.5 L915.5 2451.5 L919.5 2464.3 L922.5 2471.6 L928.3 2468.7 L938.5 2461.4 L941.4 2500.8 L942.9 2530.3 L945.9 2548.0 L950.1 2559.2 L954.3 2568.3 L954.9 2617.8 L959.1 2618.2 L965.0 2626.9 L970.6 2631.1 L974.6 2631.1 L974.8 2631.4 L975.4 2661.8 L982.5 2651.7 L988.3 2654.5 L995.6 2644.3 L1001.4 2645.8 L1007.3 2632.6 L1013.1 2618.2 L1018.9 2600.6 L1024.8 2579.9 L1033.6 2537.4 L1041.0 2493.5 L1046.8 2451.4 L1049.7 2433.6 L1055.5 2410.3 L1058.5 2402.9 L1062.9 2409.0 L1065.2 2416.1 L1065.8 2534.6 L1068.9 2398.6 L1070.5 2369.1 L1074.5 2341.4 L1087.5 2222.5 L1097.3 2152.1 L1108.0 2090.0 L1114.7 2060.1 L1121.7 2034.5 L1126.0 2022.1 L1129.0 2014.2 L1132.7 2006.0 L1136.6 1999.0 L1140.5 1993.3 L1144.4 1989.0 L1148.7 1985.8 L1153.4 1983.3 L1158.4 1981.8 L1164.2 1981.2 L1169.2 1981.7 L1173.9 1983.3 L1179.9 1986.9 L1186.4 1992.4 L1193.6 2000.2 L1200.5 2009.0 L1208.0 2019.9 L1243.4 2072.6 L1250.4 2081.7 L1260.2 2093.0 L1263.3 2096.8 L1265.8 2101.0 L1268.6 2106.9 L1271.2 2113.9 L1273.0 2120.6 L1281.8 2163.2 L1300.2 2266.5 L1304.8 2285.9 L1308.5 2289.9 L1311.1 2308.5 L1319.5 2303.6 L1322.0 2244.4 L1324.5 2328.9 L1328.9 2404.2 L1332.2 2435.0 L1335.5 2459.7 L1338.8 2479.8 L1339.2 2500.8 L1349.1 2576.2 L1354.2 2601.7 L1358.0 2639.5 L1359.3 2659.9 L1369.3 2695.0 L1375.7 2702.7 L1378.2 2706.5 L1378.9 2775.5 L1379.1 2775.7 L1388.3 2770.8 L1397.9 2773.4 L1398.9 2839.9 L1406.0 2801.0 L1410.9 2798.5 L1417.5 2789.7 L1418.6 2851.3 L1423.6 2816.2 L1431.2 2808.3 L1437.4 2773.3 L1438.5 2829.9 L1443.7 2793.7 L1448.8 2778.1 L1451.3 2763.3 L1455.1 2748.2 L1458.9 2728.1 L1461.7 2725.3 L1467.6 2706.7 L1474.0 2685.2 L1484.7 2645.1 L1498.8 2563.3 L1514.9 2481.8 L1519.4 2440.1 L1523.0 2399.7 L1529.2 2320.0 L1543.0 2218.4 L1545.0 2207.1 L1547.8 2195.5 L1550.4 2187.4 L1553.1 2181.8 L1554.6 2179.7 L1556.0 2178.3 L1557.4 2177.6 L1558.5 2177.5 L1559.6 2177.8 L1560.9 2178.8 L1563.2 2182.2 L1565.5 2187.6 L1568.3 2196.6 L1570.8 2294.6 L1577.1 2092.7 L1582.7 2029.8 L1590.0 1979.6 L1594.9 1936.4 L1599.7 1903.8 L1603.9 1880.2 L1607.8 1863.7 L1611.2 1853.4 L1613.6 1848.5 L1616.4 1844.0 L1619.1 1840.7 L1622.2 1838.0 L1625.8 1835.9 L1629.6 1834.5 L1633.6 1833.8 L1638.4 1833.9 L1643.1 1834.9 L1647.5 1836.8 L1651.1 1839.3 L1654.4 1842.8 L1657.1 1846.9 L1660.0 1852.6 L1666.0 1869.0 L1670.9 1885.2 L1674.2 1897.2 L1714.2 2061.1 L1721.4 2087.7 L1727.8 2107.3 L1733.2 2121.9 L1736.6 2129.8 L1746.8 2150.7 L1749.4 2157.2 L1751.3 2163.4 L1754.2 2175.1 L1755.9 2184.9 L1764.5 2253.1 L1769.0 2282.1 L1774.2 2320.1 L1780.4 2365.7 L1785.6 2395.3 L1791.9 2427.8 L1795.9 2442.3 L1797.6 2446.4 L1799.4 2449.8 L1801.3 2452.2 L1803.4 2453.8 L1805.3 2454.2 L1807.5 2453.5 L1809.4 2451.7 L1810.9 2449.0 L1812.7 2443.1 L1814.0 2434.8 L1816.5 2397.3 L1818.0 2452.3 L1821.1 2462.8 L1823.6 2500.7 L1827.4 2538.5 L1832.4 2563.5 L1837.5 2573.8 L1841.2 2598.6 L1845.0 2588.8 L1848.8 2603.7 L1853.9 2614.0 L1858.8 2633.9 L1862.9 2580.0 L1866.6 2604.0 L1874.0 2611.4 L1880.3 2618.9 L1882.1 2552.4 L1889.4 2563.8 L1896.5 2570.9 L1901.8 2573.6 L1902.5 2500.6 L1905.6 2475.2 L1909.9 2450.0 L1921.2 2399.5 L1925.1 2361.6 L1925.9 2311.1 L1928.3 2280.8 L1931.9 2260.9 L1937.0 2240.9 L1942.6 2233.2 L1943.7 2190.3 L1952.4 2205.5 L1962.2 2210.4 L1963.8 2236.8 L1964.5 2166.6 L1967.0 2141.7 L1970.8 2116.0 L1975.8 2096.1 L1980.9 2086.9 L1981.9 2059.4 L1988.3 2055.7 L1996.0 2049.3 L2003.5 2044.3 L2011.2 2050.6 L2018.7 2060.6 L2026.1 2073.0 L2041.4 2103.4 L2047.6 2123.4 L2052.8 2148.9 L2067.9 2259.9 L2071.7 2277.5 L2075.4 2287.3 L2075.7 2287.6 L2080.7 2287.1 L2080.8 2286.7 L2081.8 2184.7 L2083.3 2292.7 L2084.8 2323.1 L2086.8 2348.1 L2089.8 2360.7 L2098.9 2433.1 L2110.4 2506.7 L2124.8 2581.9 L2133.1 2615.3 L2141.0 2641.2 L2145.8 2655.4 L2154.0 2674.7 L2157.3 2680.8 L2160.8 2685.4 L2165.4 2689.7 L2170.0 2692.4 L2175.0 2693.7 L2179.7 2693.7 L2184.8 2692.5 L2190.5 2689.7 L2194.6 2687.0 L2199.2 2683.2 L2209.2 2673.5 L2215.7 2665.9 L2249.3 2624.2 L2256.8 2616.2 L2265.0 2608.8"/>
</g>
<rect x="258.9" y="1729.9" width="2006.1" height="1354.9" stroke="#262626" stroke-width="3.9" fill="none"/>
<text class="tk" text-anchor="middle" transform="translate(258.9 3175.8) scale(.98 1.04)">0</text>
<text class="tk" text-anchor="middle" transform="translate(459.5 3175.8) scale(.98 1.04)">1</text>
<text class="tk" text-anchor="middle" transform="translate(660.1 3175.8) scale(.98 1.04)">2</text>
<text class="tk" text-anchor="middle" transform="translate(860.7 3175.8) scale(.98 1.04)">3</text>
<text class="tk" text-anchor="middle" transform="translate(1061.3 3175.8) scale(.98 1.04)">4</text>
<text class="tk" text-anchor="middle" transform="translate(1261.9 3175.8) scale(.98 1.04)">5</text>
<text class="tk" text-anchor="middle" transform="translate(1462.6 3175.8) scale(.98 1.04)">6</text>
<text class="tk" text-anchor="middle" transform="translate(1663.2 3175.8) scale(.98 1.04)">7</text>
<text class="tk" text-anchor="middle" transform="translate(1863.8 3175.8) scale(.98 1.04)">8</text>
<text class="tk" text-anchor="middle" transform="translate(2064.4 3175.8) scale(.98 1.04)">9</text>
<text class="tk" text-anchor="middle" transform="translate(2265.0 3175.8) scale(.98 1.04)">10</text>
<text class="tk" text-anchor="end" transform="translate(231.5 1936.3) scale(.98 1.04)">200</text>
<text class="tk" text-anchor="end" transform="translate(231.5 2162.1) scale(.98 1.04)">100</text>
<text class="tk" text-anchor="end" transform="translate(231.5 2387.9) scale(.98 1.04)">0</text>
<text class="tk" text-anchor="end" transform="translate(231.5 2613.7) scale(.98 1.04)">-100</text>
<text class="tk" text-anchor="end" transform="translate(231.5 2839.5) scale(.98 1.04)">-200</text>
<text class="tk" text-anchor="end" transform="translate(231.5 3065.3) scale(.98 1.04)">-300</text>
<text class="lb" text-anchor="middle" transform="translate(72.5 2411.7) rotate(-90) scale(1 1.025)">Yaw moment (Nm)</text>
<g clip-path="url(#t2)"><text class="lb" text-anchor="middle" x="1260.2" y="3255.9">Time (s)</text></g>
<text class="cap" text-anchor="middle" x="1180" y="3366.9">(<tspan font-weight="bold">b</tspan>)</text>
<rect x="656.3" y="2783.5" width="708.5" height="266.5" fill="#fff" stroke="#000" stroke-width="4.3"/>
<path class="cv" stroke="#00f" d="M676.9 2835H864"/>
<path class="cv" stroke="#f00" stroke-dasharray="8.8 6.1" d="M676.9 2917.4H864"/>
<path class="cv" stroke="#000" stroke-dasharray="30.5 7 15.5 7" d="M676.9 3000H864"/>
<text class="lg" x="876.7" y="2855.3">Only LSC</text>
<text class="lg" x="876.7" y="2937.5">Only DPASC</text>
<text class="lg" x="876.7" y="3019.8">Coordination control</text>
</svg></body></html>
